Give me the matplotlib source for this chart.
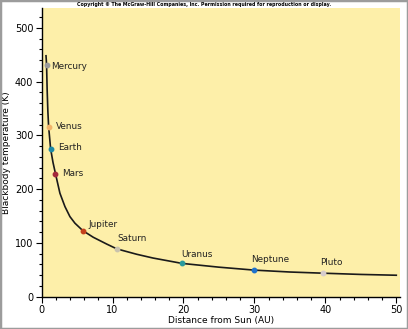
import matplotlib
matplotlib.use("Agg")
import matplotlib.pyplot as plt
from matplotlib.patches import Rectangle
from matplotlib.ticker import MultipleLocator

# curve (AU, K)
curve_au = [0.62, 0.66, 0.7, 0.78, 0.88, 0.99, 1.27, 1.6, 1.95, 2.58, 3.29,
            3.99, 4.7, 5.8, 7.28, 9.17, 10.6, 13.4, 15.7, 19.8, 25, 30,
            35, 39.7, 45, 50]
curve_k = [448, 440, 430, 385, 345, 316, 275, 250, 229, 192.5, 167.6,
           149, 136.7, 123, 110.6, 98, 89, 79, 72, 62, 55, 49.5,
           46, 43.8, 41.5, 40]

planets = ['Mercury', 'Venus', 'Earth', 'Mars', 'Jupiter', 'Saturn',
           'Uranus', 'Neptune', 'Pluto']
planet_au = [0.7, 0.99, 1.27, 1.95, 5.8, 10.6, 19.8, 30, 39.7]
planet_k = [430, 316, 275, 229, 123, 89, 62, 49.5, 43.8]

colors = ['#9a9a9a', '#f2b36a', '#1c8aa6', '#a3283a', '#c4401c',
          '#c9c2ad', '#2a9a9c', '#1f72cc', '#d6cccc']
# label offsets in pixels
offsets = [(5, -1), (7, 0), (8, 1), (7, 0), (6, 6), (1, 10), (-1, 9),
           (-3, 11), (-3, 11)]

fig = plt.figure(figsize=(4.08, 3.29), dpi=100)
fig.patch.set_facecolor('white')
fig.patches.append(Rectangle((0, 0), 1, 1, transform=fig.transFigure,
                             fill=False, edgecolor='#9c9c9c', linewidth=2.5))

ax = fig.add_axes([0.102, 0.098, 0.878, 0.878])
ax.set_facecolor('#fdefa9')
for s in ['top', 'right']:
    ax.spines[s].set_visible(False)
ax.spines['left'].set_linewidth(1.0)
ax.spines['bottom'].set_linewidth(1.0)

ax.plot(curve_au, curve_k, color='#1a1a1a', lw=1.2, zorder=2,
        solid_joinstyle='round')

for name, x, y, c, (dx, dy) in zip(planets, planet_au, planet_k, colors, offsets):
    ax.plot(x, y, 'o', color=c, markersize=3.2, zorder=3)
    ax.annotate(name, (x, y), xytext=(dx, dy), textcoords='offset pixels',
                ha='left', va='center', fontsize=6.4, color='#222222')

ax.set_xlim(0, 50.5)
ax.set_ylim(0, 537)
ax.xaxis.set_major_locator(MultipleLocator(10))
ax.xaxis.set_minor_locator(MultipleLocator(2))
ax.yaxis.set_major_locator(MultipleLocator(100))
ax.yaxis.set_minor_locator(MultipleLocator(20))
ax.tick_params(which='major', length=4, width=0.8, labelsize=7, pad=2)
ax.tick_params(which='minor', length=2.5, width=0.8)

ax.set_xlabel('Distance from Sun (AU)', fontsize=6.5, labelpad=1)
ax.set_ylabel('Blackbody temperature (K)', fontsize=6.5, labelpad=3)

fig.text(0.5, 0.993, 'Copyright \u00a9 The McGraw-Hill Companies, Inc. '
         'Permission required for reproduction or display.',
         ha='center', va='top', fontsize=3.4, fontweight='bold')

fig.savefig('out.png', dpi=100)
